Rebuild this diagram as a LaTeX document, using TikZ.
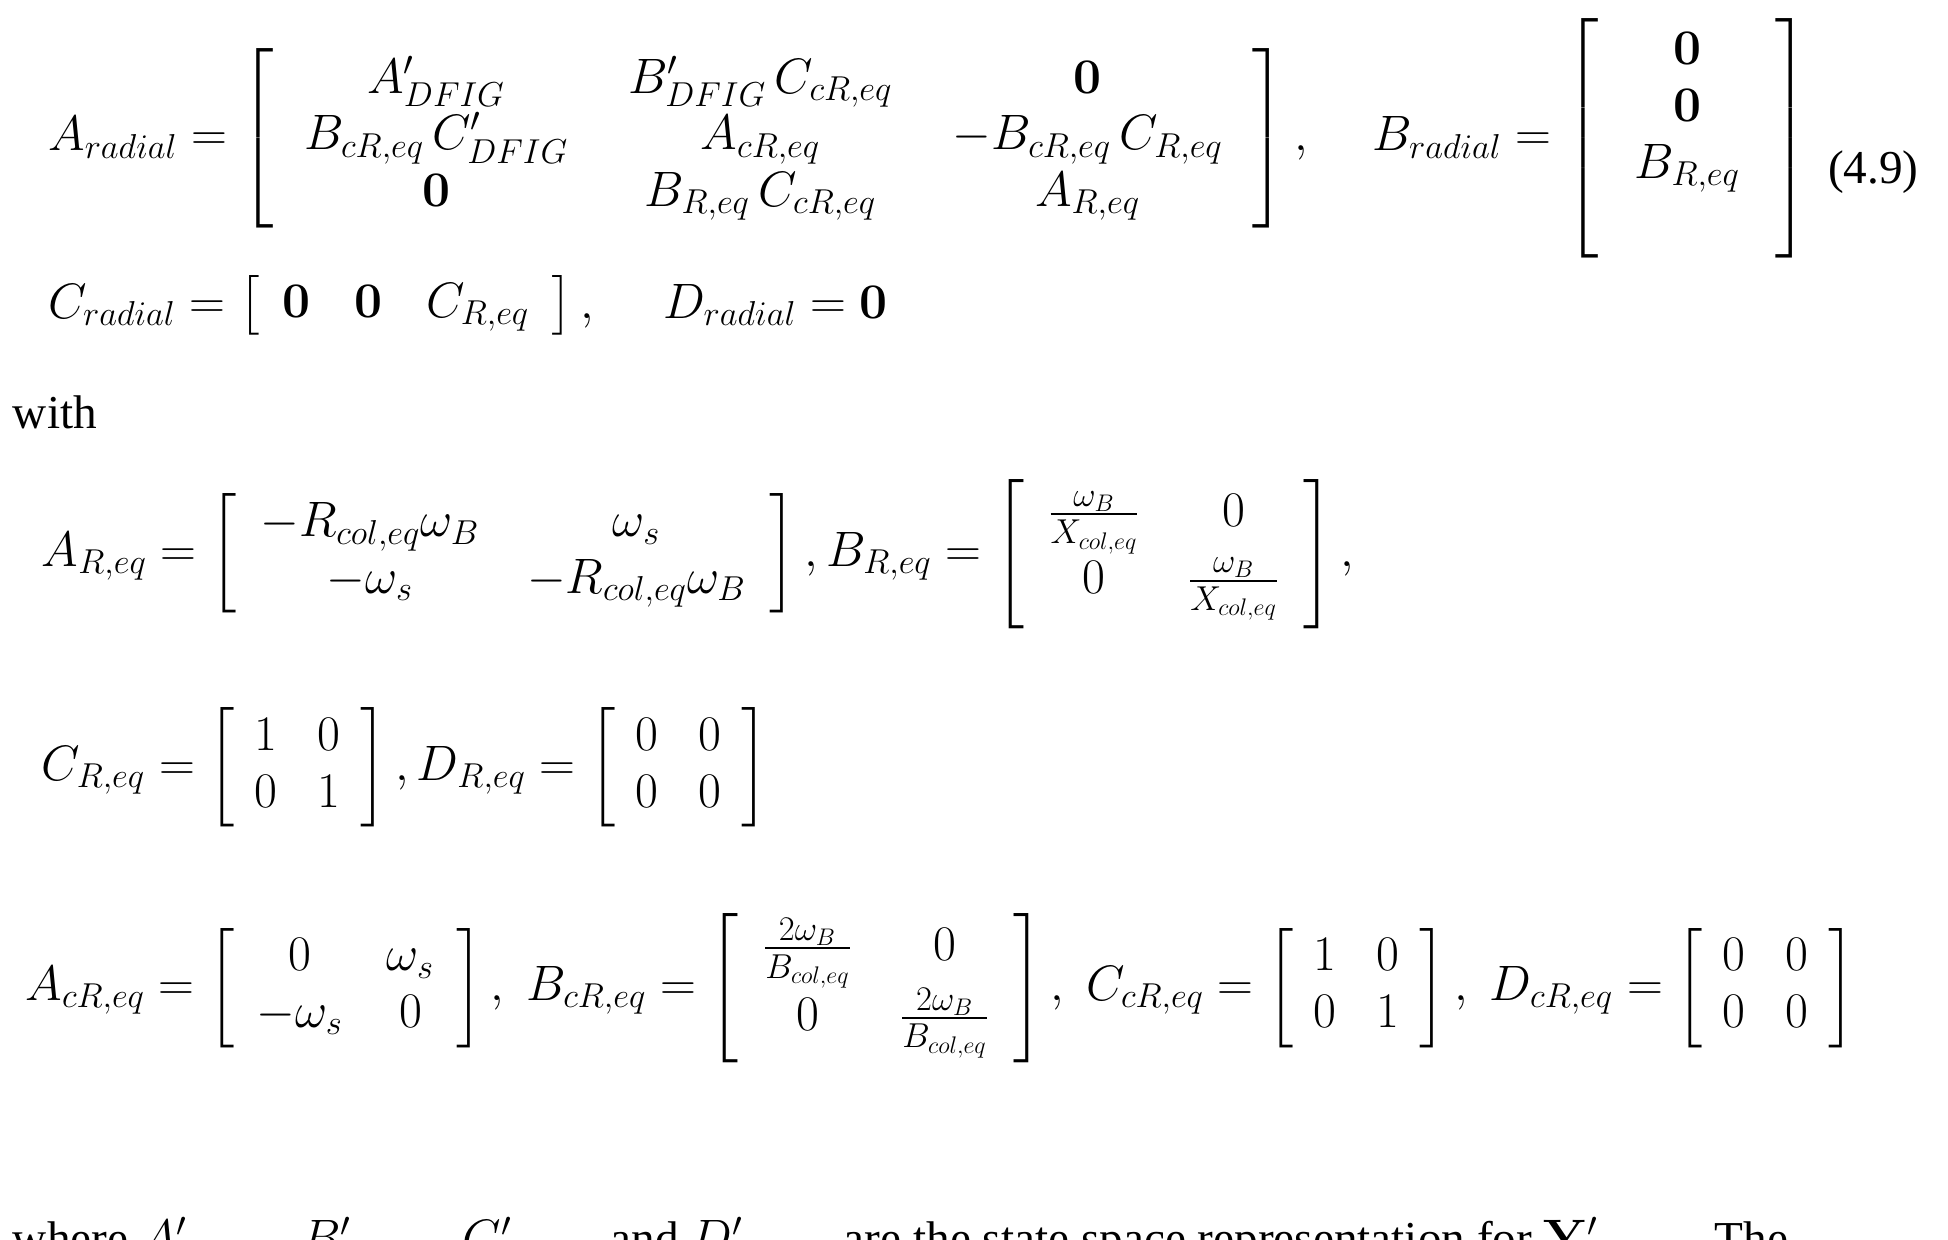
\documentclass[tikz,border=0pt]{standalone}
\usepackage{amsmath}
\usepackage[no-math]{fontspec}
\setmainfont{Liberation Serif}
\begin{document}
\begin{tikzpicture}[x=0.629pt,y=-0.629pt,
  eq/.style={anchor=west,inner sep=0pt,font=\fontsize{23.6}{28.3}\selectfont}]
\useasboundingbox (0,0) rectangle (1548,985);
\clip (0,0) rectangle (1548,985);
\node[eq] (l1) at (38,110) {$A_{radial}=\left[\arraycolsep=15pt\begin{array}{ccc}
A'_{DFIG} & B'_{DFIG}\,C_{cR,eq} & \mathbf{0}\\
B_{cR,eq}\,C'_{DFIG} & A_{cR,eq} & -B_{cR,eq}\,C_{R,eq}\\
\mathbf{0} & B_{R,eq}\,C_{cR,eq} & A_{R,eq}
\end{array}\right],$};
\node[eq] (l1b) at (1090,110) {$B_{radial}=\left[\arraycolsep=18pt\begin{array}{c}
\mathbf{0}\\ \mathbf{0}\\ B_{R,eq}\\ \rule{0pt}{14pt}
\end{array}\right]$};
\node[eq,anchor=east] (num) at (1525,137) {(4.9)};
\node[eq] (l2) at (38,243) {$C_{radial}=\left[\arraycolsep=11pt\begin{array}{ccc}\mathbf{0}&\mathbf{0}&C_{R,eq}\end{array}\right],\quad\; D_{radial}=\mathbf{0}$};
\node[eq] (with) at (10,328) {with};
\node[eq] (l3) at (33,440) {$A_{R,eq}=\left[\arraycolsep=12pt\begin{array}{cc}-R_{col,eq}\omega_B&\omega_s\\-\omega_s&-R_{col,eq}\omega_B\end{array}\right],B_{R,eq}=\left[\arraycolsep=12pt\begin{array}{cc}\frac{\omega_B}{X_{col,eq}}&0\\0&\frac{\omega_B}{X_{col,eq}}\end{array}\right],$};
\node[eq] (l4) at (33,610) {$C_{R,eq}=\left[\arraycolsep=10pt\begin{array}{cc}1&0\\0&1\end{array}\right],D_{R,eq}=\left[\arraycolsep=10pt\begin{array}{cc}0&0\\0&0\end{array}\right]$};
\node[eq] (l5) at (20,785) {$A_{cR,eq}=\left[\arraycolsep=11pt\begin{array}{cc}0&\omega_s\\-\omega_s&0\end{array}\right],\;B_{cR,eq}=\left[\arraycolsep=12pt\begin{array}{cc}\frac{2\omega_B}{B_{col,eq}}&0\\0&\frac{2\omega_B}{B_{col,eq}}\end{array}\right],\;C_{cR,eq}=\left[\arraycolsep=10pt\begin{array}{cc}1&0\\0&1\end{array}\right],\;D_{cR,eq}=\left[\arraycolsep=10pt\begin{array}{cc}0&0\\0&0\end{array}\right]$};
\node[eq,anchor=base west] (l6) at (10,997) {where $A'_{DFIG}$, $B'_{DFIG}$, $C'_{DFIG}$ and $D'_{DFIG}$ are the state space representation for $\mathbf{Y}'_{DFIG}$. The};
\end{tikzpicture}
\end{document}
